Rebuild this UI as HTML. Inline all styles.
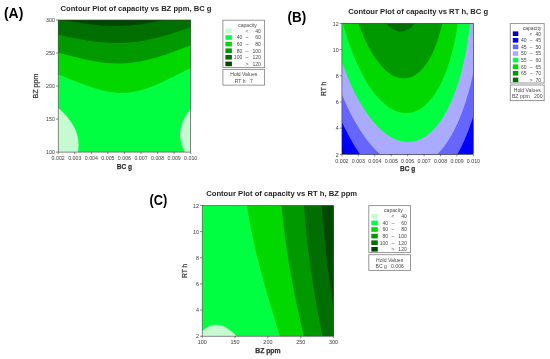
<!DOCTYPE html>
<html><head><meta charset="utf-8"><title>Contour plots</title>
<style>
html,body{margin:0;padding:0;background:#fff;}
svg{display:block;}
text{font-family:"Liberation Sans",sans-serif;fill:#2a2a2a;}
.tk{font-size:6.2px;fill:#3c3c3c;}
.al{font-size:6.4px;fill:#3a3a3a;stroke:#3a3a3a;stroke-width:0.22px;}
.xl{font-size:6.7px;font-weight:bold;stroke:#333;stroke-width:0.25px;fill:#333;}
.tt{font-size:8.1px;font-weight:bold;fill:#262626;}
.pl{font-size:13.9px;font-weight:bold;fill:#000;}
.lg{font-size:5.1px;fill:#4a4a4a;}
</style></head><body>
<svg width="550" height="359" viewBox="0 0 550 359">
<rect width="550" height="359" fill="#fff"/>
<clipPath id="ca"><rect x="58.20" y="20.00" width="132.50" height="132.10"/></clipPath>
<g clip-path="url(#ca)">
<rect x="58.20" y="20.00" width="132.50" height="132.10" fill="#c6fbd2"/>
<path d="M58.2 20.0L60.2 20.0L62.2 20.0L64.2 20.0L66.2 20.0L68.2 20.0L70.2 20.0L72.3 20.0L74.3 20.0L76.3 20.0L78.3 20.0L80.3 20.0L82.3 20.0L84.3 20.0L86.3 20.0L88.3 20.0L90.3 20.0L92.3 20.0L94.3 20.0L96.3 20.0L98.4 20.0L100.4 20.0L102.4 20.0L104.4 20.0L106.4 20.0L108.4 20.0L110.4 20.0L112.4 20.0L114.4 20.0L116.4 20.0L118.4 20.0L120.4 20.0L122.4 20.0L124.5 20.0L126.5 20.0L128.5 20.0L130.5 20.0L132.5 20.0L134.5 20.0L136.5 20.0L138.5 20.0L140.5 20.0L142.5 20.0L144.5 20.0L146.5 20.0L148.5 20.0L150.5 20.0L152.6 20.0L154.6 20.0L156.6 20.0L158.6 20.0L160.6 20.0L162.6 20.0L164.6 20.0L166.6 20.0L168.6 20.0L170.6 20.0L172.6 20.0L174.6 20.0L176.6 20.0L178.7 20.0L180.7 20.0L182.7 20.0L184.7 20.0L186.7 20.0L188.7 20.0L190.7 20.0L190.7 22.0L190.7 24.0L190.7 26.0L190.7 28.0L190.7 30.0L190.7 32.0L190.7 34.0L190.7 36.0L190.7 38.0L190.7 40.0L190.7 42.0L190.7 44.0L190.7 46.0L190.7 48.0L190.7 50.0L190.7 52.0L190.7 54.0L190.7 56.0L190.7 58.0L190.7 60.0L190.7 62.0L190.7 64.0L190.7 66.0L190.7 68.0L190.7 70.0L190.7 72.0L190.7 74.0L190.7 76.0L190.7 78.0L190.7 80.0L190.7 82.0L190.7 84.0L190.7 86.0L190.7 88.1L190.7 90.1L190.7 92.1L190.7 94.1L190.7 96.1L190.7 98.1L190.7 100.1L190.7 102.1L190.7 104.1L190.7 106.1L190.7 108.1L190.7 108.9L189.7 110.1L188.7 111.4L188.2 112.1L186.9 114.1L186.7 114.3L185.6 116.1L184.7 117.7L184.5 118.1L183.5 120.1L182.7 121.9L182.6 122.1L181.9 124.1L181.2 126.1L180.7 128.1L180.7 128.6L180.4 130.1L180.2 132.1L180.1 134.1L180.1 136.1L180.3 138.1L180.5 140.1L180.7 140.7L181.0 142.1L181.5 144.1L182.2 146.1L182.7 147.3L183.0 148.1L183.9 150.1L184.7 151.6L184.9 152.1L184.7 152.1L182.7 152.1L180.7 152.1L178.7 152.1L176.6 152.1L174.6 152.1L172.6 152.1L170.6 152.1L168.6 152.1L166.6 152.1L164.6 152.1L162.6 152.1L160.6 152.1L158.6 152.1L156.6 152.1L154.6 152.1L152.6 152.1L150.5 152.1L148.5 152.1L146.5 152.1L144.5 152.1L142.5 152.1L140.5 152.1L138.5 152.1L136.5 152.1L134.5 152.1L132.5 152.1L130.5 152.1L128.5 152.1L126.5 152.1L124.5 152.1L122.4 152.1L120.4 152.1L118.4 152.1L116.4 152.1L114.4 152.1L112.4 152.1L110.4 152.1L108.4 152.1L106.4 152.1L104.4 152.1L102.4 152.1L100.4 152.1L98.4 152.1L96.3 152.1L94.3 152.1L92.3 152.1L90.3 152.1L88.3 152.1L86.3 152.1L84.3 152.1L82.3 152.1L80.3 152.1L78.3 152.1L78.0 152.1L78.3 150.1L78.3 149.8L78.4 148.1L78.5 146.1L78.5 144.1L78.4 142.1L78.3 140.7L78.2 140.1L77.9 138.1L77.5 136.1L76.9 134.1L76.3 132.1L76.3 132.1L75.5 130.1L74.6 128.1L74.3 127.5L73.5 126.1L72.4 124.1L72.3 123.9L71.1 122.1L70.2 120.9L69.7 120.1L68.2 118.2L68.2 118.1L66.5 116.1L66.2 115.8L64.7 114.1L64.2 113.6L62.7 112.1L62.2 111.6L60.6 110.1L60.2 109.7L58.4 108.1L58.2 107.9L58.2 106.1L58.2 104.1L58.2 102.1L58.2 100.1L58.2 98.1L58.2 96.1L58.2 94.1L58.2 92.1L58.2 90.1L58.2 88.1L58.2 86.0L58.2 84.0L58.2 82.0L58.2 80.0L58.2 78.0L58.2 76.0L58.2 74.0L58.2 72.0L58.2 70.0L58.2 68.0L58.2 66.0L58.2 64.0L58.2 62.0L58.2 60.0L58.2 58.0L58.2 56.0L58.2 54.0L58.2 52.0L58.2 50.0L58.2 48.0L58.2 46.0L58.2 44.0L58.2 42.0L58.2 40.0L58.2 38.0L58.2 36.0L58.2 34.0L58.2 32.0L58.2 30.0L58.2 28.0L58.2 26.0L58.2 24.0L58.2 22.0Z" fill="#00ff40"/>
<path d="M58.2 20.0L60.2 20.0L62.2 20.0L64.2 20.0L66.2 20.0L68.2 20.0L70.2 20.0L72.3 20.0L74.3 20.0L76.3 20.0L78.3 20.0L80.3 20.0L82.3 20.0L84.3 20.0L86.3 20.0L88.3 20.0L90.3 20.0L92.3 20.0L94.3 20.0L96.3 20.0L98.4 20.0L100.4 20.0L102.4 20.0L104.4 20.0L106.4 20.0L108.4 20.0L110.4 20.0L112.4 20.0L114.4 20.0L116.4 20.0L118.4 20.0L120.4 20.0L122.4 20.0L124.5 20.0L126.5 20.0L128.5 20.0L130.5 20.0L132.5 20.0L134.5 20.0L136.5 20.0L138.5 20.0L140.5 20.0L142.5 20.0L144.5 20.0L146.5 20.0L148.5 20.0L150.5 20.0L152.6 20.0L154.6 20.0L156.6 20.0L158.6 20.0L160.6 20.0L162.6 20.0L164.6 20.0L166.6 20.0L168.6 20.0L170.6 20.0L172.6 20.0L174.6 20.0L176.6 20.0L178.7 20.0L180.7 20.0L182.7 20.0L184.7 20.0L186.7 20.0L188.7 20.0L190.7 20.0L190.7 22.0L190.7 24.0L190.7 26.0L190.7 28.0L190.7 30.0L190.7 32.0L190.7 34.0L190.7 36.0L190.7 38.0L190.7 40.0L190.7 42.0L190.7 44.0L190.7 46.0L190.7 48.0L190.7 50.0L190.7 52.0L190.7 54.0L190.7 56.0L190.7 58.0L190.7 60.0L190.7 62.0L190.7 64.0L190.7 66.0L190.7 68.0L190.7 68.0L188.7 69.0L186.7 70.0L186.6 70.0L184.7 71.0L182.7 72.0L182.6 72.0L180.7 73.0L178.7 74.0L178.6 74.0L176.6 75.0L174.6 76.0L174.6 76.0L172.6 77.0L170.6 78.0L170.5 78.0L168.6 79.0L166.6 80.0L166.4 80.0L164.6 80.9L162.6 81.9L162.2 82.0L160.6 82.8L158.6 83.7L157.7 84.0L156.6 84.5L154.6 85.4L152.9 86.0L152.6 86.2L150.5 87.0L148.5 87.7L147.5 88.1L146.5 88.4L144.5 89.1L142.5 89.7L141.2 90.1L140.5 90.2L138.5 90.8L136.5 91.2L134.5 91.6L132.5 92.0L132.0 92.1L130.5 92.3L128.5 92.5L126.5 92.7L124.5 92.8L122.4 92.9L120.4 92.9L118.4 92.8L116.4 92.7L114.4 92.5L112.4 92.3L110.9 92.1L110.4 92.0L108.4 91.7L106.4 91.3L104.4 90.8L102.4 90.4L101.2 90.1L100.4 89.8L98.4 89.3L96.3 88.7L94.3 88.1L94.2 88.1L92.3 87.4L90.3 86.8L88.3 86.1L88.3 86.0L86.3 85.3L84.3 84.6L82.8 84.0L82.3 83.9L80.3 83.1L78.3 82.3L77.6 82.0L76.3 81.5L74.3 80.7L72.5 80.0L72.3 80.0L70.2 79.2L68.2 78.4L67.4 78.0L66.2 77.6L64.2 76.8L62.2 76.0L62.2 76.0L60.2 75.3L58.2 74.5L58.2 74.0L58.2 72.0L58.2 70.0L58.2 68.0L58.2 66.0L58.2 64.0L58.2 62.0L58.2 60.0L58.2 58.0L58.2 56.0L58.2 54.0L58.2 52.0L58.2 50.0L58.2 48.0L58.2 46.0L58.2 44.0L58.2 42.0L58.2 40.0L58.2 38.0L58.2 36.0L58.2 34.0L58.2 32.0L58.2 30.0L58.2 28.0L58.2 26.0L58.2 24.0L58.2 22.0Z" fill="#00d800"/>
<path d="M58.2 20.0L60.2 20.0L62.2 20.0L64.2 20.0L66.2 20.0L68.2 20.0L70.2 20.0L72.3 20.0L74.3 20.0L76.3 20.0L78.3 20.0L80.3 20.0L82.3 20.0L84.3 20.0L86.3 20.0L88.3 20.0L90.3 20.0L92.3 20.0L94.3 20.0L96.3 20.0L98.4 20.0L100.4 20.0L102.4 20.0L104.4 20.0L106.4 20.0L108.4 20.0L110.4 20.0L112.4 20.0L114.4 20.0L116.4 20.0L118.4 20.0L120.4 20.0L122.4 20.0L124.5 20.0L126.5 20.0L128.5 20.0L130.5 20.0L132.5 20.0L134.5 20.0L136.5 20.0L138.5 20.0L140.5 20.0L142.5 20.0L144.5 20.0L146.5 20.0L148.5 20.0L150.5 20.0L152.6 20.0L154.6 20.0L156.6 20.0L158.6 20.0L160.6 20.0L162.6 20.0L164.6 20.0L166.6 20.0L168.6 20.0L170.6 20.0L172.6 20.0L174.6 20.0L176.6 20.0L178.7 20.0L180.7 20.0L182.7 20.0L184.7 20.0L186.7 20.0L188.7 20.0L190.7 20.0L190.7 22.0L190.7 24.0L190.7 26.0L190.7 28.0L190.7 30.0L190.7 32.0L190.7 34.0L190.7 36.0L190.7 38.0L190.7 40.0L190.7 42.0L190.7 44.0L190.7 45.2L188.7 46.0L188.6 46.0L186.7 46.8L184.7 47.5L183.4 48.0L182.7 48.3L180.7 49.1L178.7 49.8L178.1 50.0L176.6 50.6L174.6 51.3L172.7 52.0L172.6 52.1L170.6 52.8L168.6 53.5L167.1 54.0L166.6 54.2L164.6 54.9L162.6 55.6L161.1 56.0L160.6 56.2L158.6 56.8L156.6 57.4L154.6 58.0L154.5 58.0L152.6 58.6L150.5 59.1L148.5 59.6L146.8 60.0L146.5 60.1L144.5 60.6L142.5 61.0L140.5 61.4L138.5 61.7L136.6 62.0L136.5 62.1L134.5 62.3L132.5 62.6L130.5 62.8L128.5 63.0L126.5 63.2L124.4 63.3L122.4 63.4L120.4 63.5L118.4 63.5L116.4 63.5L114.4 63.4L112.4 63.3L110.4 63.2L108.4 63.1L106.4 62.9L104.4 62.7L102.4 62.4L100.4 62.2L99.5 62.0L98.4 61.9L96.3 61.6L94.3 61.2L92.3 60.8L90.3 60.5L88.3 60.0L88.3 60.0L86.3 59.6L84.3 59.2L82.3 58.7L80.3 58.2L79.4 58.0L78.3 57.8L76.3 57.3L74.3 56.8L72.3 56.3L71.4 56.0L70.2 55.7L68.2 55.2L66.2 54.7L64.2 54.2L63.7 54.0L62.2 53.7L60.2 53.1L58.2 52.6L58.2 52.0L58.2 50.0L58.2 48.0L58.2 46.0L58.2 44.0L58.2 42.0L58.2 40.0L58.2 38.0L58.2 36.0L58.2 34.0L58.2 32.0L58.2 30.0L58.2 28.0L58.2 26.0L58.2 24.0L58.2 22.0Z" fill="#009900"/>
<path d="M58.2 20.0L60.2 20.0L62.2 20.0L64.2 20.0L66.2 20.0L68.2 20.0L70.2 20.0L72.3 20.0L74.3 20.0L76.3 20.0L78.3 20.0L80.3 20.0L82.3 20.0L84.3 20.0L86.3 20.0L88.3 20.0L90.3 20.0L92.3 20.0L94.3 20.0L96.3 20.0L98.4 20.0L100.4 20.0L102.4 20.0L104.4 20.0L106.4 20.0L108.4 20.0L110.4 20.0L112.4 20.0L114.4 20.0L116.4 20.0L118.4 20.0L120.4 20.0L122.4 20.0L124.5 20.0L126.5 20.0L128.5 20.0L130.5 20.0L132.5 20.0L134.5 20.0L136.5 20.0L138.5 20.0L140.5 20.0L142.5 20.0L144.5 20.0L146.5 20.0L148.5 20.0L150.5 20.0L152.6 20.0L154.6 20.0L156.6 20.0L158.6 20.0L160.6 20.0L162.6 20.0L164.6 20.0L166.6 20.0L168.6 20.0L170.6 20.0L172.6 20.0L174.6 20.0L176.6 20.0L178.7 20.0L180.7 20.0L182.7 20.0L184.7 20.0L186.7 20.0L188.7 20.0L190.7 20.0L190.7 22.0L190.7 24.0L190.7 26.0L190.7 27.3L188.7 28.0L188.6 28.0L186.7 28.7L184.7 29.3L182.7 30.0L182.6 30.0L180.7 30.7L178.7 31.3L176.6 32.0L176.5 32.0L174.6 32.6L172.6 33.2L170.6 33.9L170.1 34.0L168.6 34.5L166.6 35.1L164.6 35.6L163.2 36.0L162.6 36.2L160.6 36.7L158.6 37.3L156.6 37.8L155.6 38.0L154.6 38.3L152.6 38.7L150.5 39.2L148.5 39.6L146.5 40.0L146.5 40.0L144.5 40.4L142.5 40.7L140.5 41.1L138.5 41.4L136.5 41.7L134.5 41.9L133.5 42.0L132.5 42.1L130.5 42.3L128.5 42.5L126.5 42.7L124.5 42.8L122.4 42.9L120.4 42.9L118.4 43.0L116.4 43.0L114.4 43.0L112.4 42.9L110.4 42.8L108.4 42.8L106.4 42.6L104.4 42.5L102.4 42.3L100.4 42.1L99.3 42.0L98.4 41.9L96.3 41.7L94.3 41.4L92.3 41.2L90.3 40.9L88.3 40.6L86.3 40.2L84.9 40.0L84.3 39.9L82.3 39.6L80.3 39.2L78.3 38.8L76.3 38.4L74.3 38.1L74.1 38.0L72.3 37.7L70.2 37.3L68.2 36.9L66.2 36.4L64.2 36.0L64.1 36.0L62.2 35.6L60.2 35.2L58.2 34.8L58.2 34.0L58.2 32.0L58.2 30.0L58.2 28.0L58.2 26.0L58.2 24.0L58.2 22.0Z" fill="#006e00"/>
<path d="M63.1 20.0L64.2 20.0L66.2 20.0L68.2 20.0L70.2 20.0L72.3 20.0L74.3 20.0L76.3 20.0L78.3 20.0L80.3 20.0L82.3 20.0L84.3 20.0L86.3 20.0L88.3 20.0L90.3 20.0L92.3 20.0L94.3 20.0L96.3 20.0L98.4 20.0L100.4 20.0L102.4 20.0L104.4 20.0L106.4 20.0L108.4 20.0L110.4 20.0L112.4 20.0L114.4 20.0L116.4 20.0L118.4 20.0L120.4 20.0L122.4 20.0L124.5 20.0L126.5 20.0L128.5 20.0L130.5 20.0L132.5 20.0L134.5 20.0L136.5 20.0L138.5 20.0L140.5 20.0L142.5 20.0L144.5 20.0L146.5 20.0L148.5 20.0L150.5 20.0L152.6 20.0L154.6 20.0L156.6 20.0L158.6 20.0L160.6 20.0L162.3 20.0L160.6 20.4L158.6 20.9L156.6 21.3L154.6 21.8L153.5 22.0L152.6 22.2L150.5 22.6L148.5 23.0L146.5 23.3L144.5 23.7L142.5 24.0L142.4 24.0L140.5 24.3L138.5 24.6L136.5 24.8L134.5 25.0L132.5 25.2L130.5 25.4L128.5 25.6L126.5 25.7L124.5 25.8L122.4 25.9L120.4 26.0L118.6 26.0L118.4 26.0L116.4 26.0L114.4 26.0L113.4 26.0L112.4 26.0L110.4 25.9L108.4 25.9L106.4 25.8L104.4 25.7L102.4 25.5L100.4 25.4L98.4 25.2L96.3 25.0L94.3 24.8L92.3 24.6L90.3 24.3L88.3 24.1L87.8 24.0L86.3 23.8L84.3 23.5L82.3 23.2L80.3 22.9L78.3 22.6L76.3 22.3L74.7 22.0L74.3 21.9L72.3 21.6L70.2 21.3L68.2 20.9L66.2 20.6L64.2 20.2Z" fill="#004800"/>
</g>
<rect x="58.20" y="20.00" width="132.50" height="132.10" fill="none" stroke="#3a3a3a" stroke-width="0.6"/>
<line x1="58.20" y1="152.10" x2="58.20" y2="154.10" stroke="#3a3a3a" stroke-width="0.6"/>
<text transform="translate(58.20 160.20) scale(0.85 1)" text-anchor="middle" class="tk">0.002</text>
<line x1="74.76" y1="152.10" x2="74.76" y2="154.10" stroke="#3a3a3a" stroke-width="0.6"/>
<text transform="translate(74.76 160.20) scale(0.85 1)" text-anchor="middle" class="tk">0.003</text>
<line x1="91.33" y1="152.10" x2="91.33" y2="154.10" stroke="#3a3a3a" stroke-width="0.6"/>
<text transform="translate(91.33 160.20) scale(0.85 1)" text-anchor="middle" class="tk">0.004</text>
<line x1="107.89" y1="152.10" x2="107.89" y2="154.10" stroke="#3a3a3a" stroke-width="0.6"/>
<text transform="translate(107.89 160.20) scale(0.85 1)" text-anchor="middle" class="tk">0.005</text>
<line x1="124.45" y1="152.10" x2="124.45" y2="154.10" stroke="#3a3a3a" stroke-width="0.6"/>
<text transform="translate(124.45 160.20) scale(0.85 1)" text-anchor="middle" class="tk">0.006</text>
<line x1="141.01" y1="152.10" x2="141.01" y2="154.10" stroke="#3a3a3a" stroke-width="0.6"/>
<text transform="translate(141.01 160.20) scale(0.85 1)" text-anchor="middle" class="tk">0.007</text>
<line x1="157.57" y1="152.10" x2="157.57" y2="154.10" stroke="#3a3a3a" stroke-width="0.6"/>
<text transform="translate(157.57 160.20) scale(0.85 1)" text-anchor="middle" class="tk">0.008</text>
<line x1="174.14" y1="152.10" x2="174.14" y2="154.10" stroke="#3a3a3a" stroke-width="0.6"/>
<text transform="translate(174.14 160.20) scale(0.85 1)" text-anchor="middle" class="tk">0.009</text>
<line x1="190.70" y1="152.10" x2="190.70" y2="154.10" stroke="#3a3a3a" stroke-width="0.6"/>
<text transform="translate(190.70 160.20) scale(0.85 1)" text-anchor="middle" class="tk">0.010</text>
<line x1="56.00" y1="152.10" x2="58.20" y2="152.10" stroke="#3a3a3a" stroke-width="0.6"/>
<text transform="translate(55.00 154.30) scale(0.86 1)" text-anchor="end" class="tk">100</text>
<line x1="56.00" y1="119.07" x2="58.20" y2="119.07" stroke="#3a3a3a" stroke-width="0.6"/>
<text transform="translate(55.00 121.27) scale(0.86 1)" text-anchor="end" class="tk">150</text>
<line x1="56.00" y1="86.05" x2="58.20" y2="86.05" stroke="#3a3a3a" stroke-width="0.6"/>
<text transform="translate(55.00 88.25) scale(0.86 1)" text-anchor="end" class="tk">200</text>
<line x1="56.00" y1="53.03" x2="58.20" y2="53.03" stroke="#3a3a3a" stroke-width="0.6"/>
<text transform="translate(55.00 55.23) scale(0.86 1)" text-anchor="end" class="tk">250</text>
<line x1="56.00" y1="20.00" x2="58.20" y2="20.00" stroke="#3a3a3a" stroke-width="0.6"/>
<text transform="translate(55.00 22.20) scale(0.86 1)" text-anchor="end" class="tk">300</text>
<text x="116.85" y="168.60" class="al xl" textLength="15.2" lengthAdjust="spacingAndGlyphs">BC g</text>
<text transform="translate(38.00 86.05) rotate(-90)" x="-12.50" y="0" class="al" textLength="25.0" lengthAdjust="spacingAndGlyphs">BZ ppm</text>
<text x="60.6" y="11.1" class="tt" textLength="150.8" lengthAdjust="spacingAndGlyphs">Contour Plot of capacity vs BZ ppm, BC g</text>
<text x="3.9" y="17.9" class="pl" textLength="19.4" lengthAdjust="spacingAndGlyphs">(A)</text>
<rect x="222.90" y="20.20" width="41.70" height="47.40" fill="#fff" stroke="#8c8c8c" stroke-width="0.9"/>
<text x="247.50" y="26.50" text-anchor="middle" class="lg">capacity</text>
<rect x="225.40" y="28.60" width="6.5" height="4.6" fill="#c6fbd2"/>
<text x="246.90" y="32.80" text-anchor="middle" class="lg">&lt;</text>
<text x="260.90" y="32.80" text-anchor="end" class="lg">40</text>
<rect x="225.40" y="35.20" width="6.5" height="4.6" fill="#00ff40"/>
<text x="242.30" y="39.40" text-anchor="end" class="lg">40</text>
<text x="246.90" y="39.40" text-anchor="middle" class="lg">–</text>
<text x="260.90" y="39.40" text-anchor="end" class="lg">60</text>
<rect x="225.40" y="41.80" width="6.5" height="4.6" fill="#00d800"/>
<text x="242.30" y="46.00" text-anchor="end" class="lg">60</text>
<text x="246.90" y="46.00" text-anchor="middle" class="lg">–</text>
<text x="260.90" y="46.00" text-anchor="end" class="lg">80</text>
<rect x="225.40" y="48.40" width="6.5" height="4.6" fill="#009900"/>
<text x="242.30" y="52.60" text-anchor="end" class="lg">80</text>
<text x="246.90" y="52.60" text-anchor="middle" class="lg">–</text>
<text x="260.90" y="52.60" text-anchor="end" class="lg">100</text>
<rect x="225.40" y="55.00" width="6.5" height="4.6" fill="#006e00"/>
<text x="242.30" y="59.20" text-anchor="end" class="lg">100</text>
<text x="246.90" y="59.20" text-anchor="middle" class="lg">–</text>
<text x="260.90" y="59.20" text-anchor="end" class="lg">120</text>
<rect x="225.40" y="61.60" width="6.5" height="4.6" fill="#004800"/>
<text x="246.90" y="65.80" text-anchor="middle" class="lg">&gt;</text>
<text x="260.90" y="65.80" text-anchor="end" class="lg">120</text>
<rect x="222.90" y="69.40" width="41.70" height="15.70" fill="#fff" stroke="#8c8c8c" stroke-width="0.9"/>
<text x="243.75" y="76.30" text-anchor="middle" class="lg">Hold Values</text>
<text x="243.75" y="82.70" text-anchor="middle" class="lg" xml:space="preserve">RT h   7</text>
<clipPath id="cb"><rect x="341.90" y="23.40" width="131.50" height="131.00"/></clipPath>
<g clip-path="url(#cb)">
<rect x="341.90" y="23.40" width="131.50" height="131.00" fill="#0000c0"/>
<path d="M341.9 23.4L343.9 23.4L345.9 23.4L347.9 23.4L349.9 23.4L351.9 23.4L353.9 23.4L355.8 23.4L357.8 23.4L359.8 23.4L361.8 23.4L363.8 23.4L365.8 23.4L367.8 23.4L369.8 23.4L371.8 23.4L373.8 23.4L375.8 23.4L377.8 23.4L379.8 23.4L381.7 23.4L383.7 23.4L385.7 23.4L387.7 23.4L389.7 23.4L391.7 23.4L393.7 23.4L395.7 23.4L397.7 23.4L399.7 23.4L401.7 23.4L403.7 23.4L405.7 23.4L407.6 23.4L409.6 23.4L411.6 23.4L413.6 23.4L415.6 23.4L417.6 23.4L419.6 23.4L421.6 23.4L423.6 23.4L425.6 23.4L427.6 23.4L429.6 23.4L431.6 23.4L433.6 23.4L435.5 23.4L437.5 23.4L439.5 23.4L441.5 23.4L443.5 23.4L445.5 23.4L447.5 23.4L449.5 23.4L451.5 23.4L453.5 23.4L455.5 23.4L457.5 23.4L459.5 23.4L461.4 23.4L463.4 23.4L465.4 23.4L467.4 23.4L469.4 23.4L471.4 23.4L473.4 23.4L473.4 25.4L473.4 27.4L473.4 29.4L473.4 31.3L473.4 33.3L473.4 35.3L473.4 37.3L473.4 39.3L473.4 41.3L473.4 43.2L473.4 45.2L473.4 47.2L473.4 49.2L473.4 51.2L473.4 53.2L473.4 55.2L473.4 57.1L473.4 59.1L473.4 61.1L473.4 63.1L473.4 65.1L473.4 67.1L473.4 69.1L473.4 71.0L473.4 73.0L473.4 75.0L473.4 77.0L473.4 79.0L473.4 81.0L473.4 82.9L473.4 84.9L473.4 86.9L473.4 88.9L473.4 90.9L473.4 92.9L473.4 94.9L473.4 96.8L473.4 98.8L473.4 100.8L473.4 102.8L473.4 104.8L473.4 106.8L473.4 108.7L473.4 110.7L473.4 112.7L473.4 114.7L473.4 116.7L473.4 118.7L473.4 120.7L473.4 122.6L473.4 124.6L473.4 126.6L473.4 128.6L473.4 130.6L473.4 132.6L473.4 134.6L473.4 136.5L473.4 138.5L473.4 140.5L473.4 142.5L473.4 144.5L473.4 146.5L473.4 148.4L473.4 149.2L472.9 150.4L472.1 152.4L471.4 154.0L471.3 154.4L469.4 154.4L467.4 154.4L465.4 154.4L463.4 154.4L461.4 154.4L459.5 154.4L457.5 154.4L455.5 154.4L453.5 154.4L451.5 154.4L449.5 154.4L447.5 154.4L445.5 154.4L443.5 154.4L441.5 154.4L439.5 154.4L437.5 154.4L435.5 154.4L433.6 154.4L431.6 154.4L429.6 154.4L427.6 154.4L425.6 154.4L423.6 154.4L421.6 154.4L419.6 154.4L417.6 154.4L415.6 154.4L413.6 154.4L411.6 154.4L409.6 154.4L407.6 154.4L405.7 154.4L403.7 154.4L401.7 154.4L399.7 154.4L397.7 154.4L395.7 154.4L393.7 154.4L391.7 154.4L389.7 154.4L387.7 154.4L385.7 154.4L383.7 154.4L381.7 154.4L379.8 154.4L377.8 154.4L375.8 154.4L373.8 154.4L371.8 154.4L369.8 154.4L367.8 154.4L365.8 154.4L363.8 154.4L361.8 154.4L359.8 154.4L357.8 154.4L355.8 154.4L353.9 154.4L351.9 154.4L349.9 154.4L347.9 154.4L346.2 154.4L345.9 153.9L345.1 152.4L344.0 150.4L343.9 150.2L343.0 148.4L341.9 146.5L341.9 146.4L341.9 144.5L341.9 142.5L341.9 140.5L341.9 138.5L341.9 136.5L341.9 134.6L341.9 132.6L341.9 130.6L341.9 128.6L341.9 126.6L341.9 124.6L341.9 122.6L341.9 120.7L341.9 118.7L341.9 116.7L341.9 114.7L341.9 112.7L341.9 110.7L341.9 108.7L341.9 106.8L341.9 104.8L341.9 102.8L341.9 100.8L341.9 98.8L341.9 96.8L341.9 94.9L341.9 92.9L341.9 90.9L341.9 88.9L341.9 86.9L341.9 84.9L341.9 82.9L341.9 81.0L341.9 79.0L341.9 77.0L341.9 75.0L341.9 73.0L341.9 71.0L341.9 69.1L341.9 67.1L341.9 65.1L341.9 63.1L341.9 61.1L341.9 59.1L341.9 57.1L341.9 55.2L341.9 53.2L341.9 51.2L341.9 49.2L341.9 47.2L341.9 45.2L341.9 43.2L341.9 41.3L341.9 39.3L341.9 37.3L341.9 35.3L341.9 33.3L341.9 31.3L341.9 29.4L341.9 27.4L341.9 25.4Z" fill="#0000ff"/>
<path d="M341.9 23.4L343.9 23.4L345.9 23.4L347.9 23.4L349.9 23.4L351.9 23.4L353.9 23.4L355.8 23.4L357.8 23.4L359.8 23.4L361.8 23.4L363.8 23.4L365.8 23.4L367.8 23.4L369.8 23.4L371.8 23.4L373.8 23.4L375.8 23.4L377.8 23.4L379.8 23.4L381.7 23.4L383.7 23.4L385.7 23.4L387.7 23.4L389.7 23.4L391.7 23.4L393.7 23.4L395.7 23.4L397.7 23.4L399.7 23.4L401.7 23.4L403.7 23.4L405.7 23.4L407.6 23.4L409.6 23.4L411.6 23.4L413.6 23.4L415.6 23.4L417.6 23.4L419.6 23.4L421.6 23.4L423.6 23.4L425.6 23.4L427.6 23.4L429.6 23.4L431.6 23.4L433.6 23.4L435.5 23.4L437.5 23.4L439.5 23.4L441.5 23.4L443.5 23.4L445.5 23.4L447.5 23.4L449.5 23.4L451.5 23.4L453.5 23.4L455.5 23.4L457.5 23.4L459.5 23.4L461.4 23.4L463.4 23.4L465.4 23.4L467.4 23.4L469.4 23.4L471.4 23.4L473.4 23.4L473.4 25.4L473.4 27.4L473.4 29.4L473.4 31.3L473.4 33.3L473.4 35.3L473.4 37.3L473.4 39.3L473.4 41.3L473.4 43.2L473.4 45.2L473.4 47.2L473.4 49.2L473.4 51.2L473.4 53.2L473.4 55.2L473.4 57.1L473.4 59.1L473.4 61.1L473.4 63.1L473.4 65.1L473.4 67.1L473.4 69.1L473.4 71.0L473.4 73.0L473.4 75.0L473.4 77.0L473.4 79.0L473.4 81.0L473.4 82.9L473.4 84.9L473.4 86.9L473.4 88.9L473.4 90.9L473.4 92.9L473.4 94.9L473.4 96.8L473.4 98.8L473.4 100.8L473.4 102.8L473.4 104.8L473.4 106.8L473.4 108.7L473.4 110.7L473.4 112.7L473.4 114.7L473.4 116.0L473.2 116.7L472.5 118.7L471.9 120.7L471.4 122.1L471.2 122.6L470.5 124.6L469.8 126.6L469.4 127.8L469.1 128.6L468.4 130.6L467.6 132.6L467.4 133.0L466.8 134.6L466.0 136.5L465.4 137.8L465.1 138.5L464.3 140.5L463.4 142.3L463.4 142.5L462.4 144.5L461.5 146.5L461.4 146.6L460.5 148.4L459.5 150.4L459.5 150.5L458.4 152.4L457.5 154.1L457.3 154.4L455.5 154.4L453.5 154.4L451.5 154.4L449.5 154.4L447.5 154.4L445.5 154.4L443.5 154.4L441.5 154.4L439.5 154.4L437.5 154.4L435.5 154.4L433.6 154.4L431.6 154.4L429.6 154.4L427.6 154.4L425.6 154.4L423.6 154.4L421.6 154.4L419.6 154.4L417.6 154.4L415.6 154.4L413.6 154.4L411.6 154.4L409.6 154.4L407.6 154.4L405.7 154.4L403.7 154.4L401.7 154.4L399.7 154.4L397.7 154.4L395.7 154.4L393.7 154.4L391.7 154.4L389.7 154.4L387.7 154.4L385.7 154.4L383.7 154.4L381.7 154.4L379.8 154.4L377.8 154.4L375.8 154.4L373.8 154.4L371.8 154.4L369.8 154.4L367.8 154.4L365.8 154.4L363.8 154.4L361.8 154.4L360.1 154.4L359.8 154.0L358.8 152.4L357.8 151.0L357.4 150.4L356.2 148.4L355.8 148.0L354.9 146.5L353.9 144.7L353.7 144.5L352.5 142.5L351.9 141.3L351.4 140.5L350.3 138.5L349.9 137.8L349.2 136.5L348.1 134.6L347.9 134.2L347.1 132.6L346.0 130.6L345.9 130.3L345.0 128.6L344.0 126.6L343.9 126.3L343.1 124.6L342.1 122.6L341.9 122.1L341.9 120.7L341.9 118.7L341.9 116.7L341.9 114.7L341.9 112.7L341.9 110.7L341.9 108.7L341.9 106.8L341.9 104.8L341.9 102.8L341.9 100.8L341.9 98.8L341.9 96.8L341.9 94.9L341.9 92.9L341.9 90.9L341.9 88.9L341.9 86.9L341.9 84.9L341.9 82.9L341.9 81.0L341.9 79.0L341.9 77.0L341.9 75.0L341.9 73.0L341.9 71.0L341.9 69.1L341.9 67.1L341.9 65.1L341.9 63.1L341.9 61.1L341.9 59.1L341.9 57.1L341.9 55.2L341.9 53.2L341.9 51.2L341.9 49.2L341.9 47.2L341.9 45.2L341.9 43.2L341.9 41.3L341.9 39.3L341.9 37.3L341.9 35.3L341.9 33.3L341.9 31.3L341.9 29.4L341.9 27.4L341.9 25.4Z" fill="#6666ff"/>
<path d="M341.9 23.4L343.9 23.4L345.9 23.4L347.9 23.4L349.9 23.4L351.9 23.4L353.9 23.4L355.8 23.4L357.8 23.4L359.8 23.4L361.8 23.4L363.8 23.4L365.8 23.4L367.8 23.4L369.8 23.4L371.8 23.4L373.8 23.4L375.8 23.4L377.8 23.4L379.8 23.4L381.7 23.4L383.7 23.4L385.7 23.4L387.7 23.4L389.7 23.4L391.7 23.4L393.7 23.4L395.7 23.4L397.7 23.4L399.7 23.4L401.7 23.4L403.7 23.4L405.7 23.4L407.6 23.4L409.6 23.4L411.6 23.4L413.6 23.4L415.6 23.4L417.6 23.4L419.6 23.4L421.6 23.4L423.6 23.4L425.6 23.4L427.6 23.4L429.6 23.4L431.6 23.4L433.6 23.4L435.5 23.4L437.5 23.4L439.5 23.4L441.5 23.4L443.5 23.4L445.5 23.4L447.5 23.4L449.5 23.4L451.5 23.4L453.5 23.4L455.5 23.4L457.5 23.4L459.5 23.4L461.4 23.4L463.4 23.4L465.4 23.4L467.4 23.4L469.4 23.4L471.4 23.4L473.4 23.4L473.4 25.4L473.4 27.4L473.4 29.4L473.4 31.3L473.4 33.3L473.4 35.3L473.4 37.3L473.4 39.3L473.4 41.3L473.4 43.2L473.4 45.2L473.4 47.2L473.4 49.2L473.4 51.2L473.4 53.2L473.4 55.2L473.4 57.1L473.4 59.1L473.4 61.1L473.4 63.1L473.4 65.1L473.4 67.1L473.4 69.1L473.4 71.0L473.4 72.2L473.2 73.0L472.8 75.0L472.4 77.0L471.9 79.0L471.5 81.0L471.4 81.2L471.0 82.9L470.5 84.9L470.0 86.9L469.5 88.9L469.4 89.1L468.9 90.9L468.4 92.9L467.8 94.9L467.4 96.3L467.2 96.8L466.6 98.8L466.0 100.8L465.4 102.7L465.4 102.8L464.7 104.8L464.1 106.8L463.4 108.6L463.4 108.7L462.6 110.7L461.9 112.7L461.4 113.9L461.1 114.7L460.3 116.7L459.5 118.7L459.5 118.9L458.7 120.7L457.8 122.6L457.5 123.5L456.9 124.6L456.0 126.6L455.5 127.7L455.0 128.6L454.0 130.6L453.5 131.6L452.9 132.6L451.9 134.6L451.5 135.2L450.7 136.5L449.5 138.5L449.5 138.6L448.3 140.5L447.5 141.7L446.9 142.5L445.6 144.5L445.5 144.6L444.1 146.5L443.5 147.2L442.5 148.4L441.5 149.7L440.9 150.4L439.5 152.0L439.1 152.4L437.5 154.1L437.2 154.4L435.5 154.4L433.6 154.4L431.6 154.4L429.6 154.4L427.6 154.4L425.6 154.4L423.6 154.4L421.6 154.4L419.6 154.4L417.6 154.4L415.6 154.4L413.6 154.4L411.6 154.4L409.6 154.4L407.6 154.4L405.7 154.4L403.7 154.4L401.7 154.4L399.7 154.4L397.7 154.4L395.7 154.4L393.7 154.4L391.7 154.4L389.7 154.4L387.7 154.4L385.7 154.4L383.7 154.4L381.7 154.4L380.2 154.4L379.8 154.0L378.1 152.4L377.8 152.1L376.0 150.4L375.8 150.2L374.1 148.4L373.8 148.1L372.3 146.5L371.8 145.9L370.6 144.5L369.8 143.5L369.0 142.5L367.8 141.1L367.4 140.5L365.9 138.5L365.8 138.4L364.4 136.5L363.8 135.7L363.0 134.6L361.8 132.8L361.7 132.6L360.4 130.6L359.8 129.7L359.1 128.6L357.9 126.6L357.8 126.5L356.7 124.6L355.8 123.2L355.5 122.6L354.4 120.7L353.9 119.6L353.3 118.7L352.3 116.7L351.9 116.0L351.2 114.7L350.2 112.7L349.9 112.1L349.2 110.7L348.2 108.7L347.9 108.0L347.3 106.8L346.4 104.8L345.9 103.8L345.4 102.8L344.6 100.8L343.9 99.3L343.7 98.8L342.8 96.8L342.0 94.9L341.9 94.6L341.9 92.9L341.9 90.9L341.9 88.9L341.9 86.9L341.9 84.9L341.9 82.9L341.9 81.0L341.9 79.0L341.9 77.0L341.9 75.0L341.9 73.0L341.9 71.0L341.9 69.1L341.9 67.1L341.9 65.1L341.9 63.1L341.9 61.1L341.9 59.1L341.9 57.1L341.9 55.2L341.9 53.2L341.9 51.2L341.9 49.2L341.9 47.2L341.9 45.2L341.9 43.2L341.9 41.3L341.9 39.3L341.9 37.3L341.9 35.3L341.9 33.3L341.9 31.3L341.9 29.4L341.9 27.4L341.9 25.4Z" fill="#aaaaff"/>
<path d="M341.9 23.4L343.9 23.4L345.9 23.4L347.9 23.4L349.9 23.4L351.9 23.4L353.9 23.4L355.8 23.4L357.8 23.4L359.8 23.4L361.8 23.4L363.8 23.4L365.8 23.4L367.8 23.4L369.8 23.4L371.8 23.4L373.8 23.4L375.8 23.4L377.8 23.4L379.8 23.4L381.7 23.4L383.7 23.4L385.7 23.4L387.7 23.4L389.7 23.4L391.7 23.4L393.7 23.4L395.7 23.4L397.7 23.4L399.7 23.4L401.7 23.4L403.7 23.4L405.7 23.4L407.6 23.4L409.6 23.4L411.6 23.4L413.6 23.4L415.6 23.4L417.6 23.4L419.6 23.4L421.6 23.4L423.6 23.4L425.6 23.4L427.6 23.4L429.6 23.4L431.6 23.4L433.6 23.4L435.5 23.4L437.5 23.4L439.5 23.4L441.5 23.4L443.5 23.4L445.5 23.4L447.5 23.4L449.5 23.4L451.5 23.4L453.5 23.4L455.5 23.4L457.5 23.4L459.5 23.4L461.4 23.4L463.4 23.4L465.4 23.4L467.4 23.4L469.4 23.4L470.0 23.4L469.8 25.4L469.6 27.4L469.4 28.8L469.3 29.4L469.1 31.3L468.8 33.3L468.5 35.3L468.3 37.3L468.0 39.3L467.7 41.3L467.4 42.8L467.4 43.2L467.0 45.2L466.7 47.2L466.3 49.2L466.0 51.2L465.6 53.2L465.4 54.0L465.2 55.2L464.8 57.1L464.4 59.1L463.9 61.1L463.5 63.1L463.4 63.4L463.0 65.1L462.6 67.1L462.1 69.1L461.6 71.0L461.4 71.5L461.0 73.0L460.5 75.0L459.9 77.0L459.5 78.7L459.4 79.0L458.8 81.0L458.2 82.9L457.5 84.9L457.5 85.1L456.9 86.9L456.2 88.9L455.5 90.9L455.5 90.9L454.7 92.9L454.0 94.9L453.5 96.2L453.2 96.8L452.4 98.8L451.5 100.8L451.5 100.9L450.7 102.8L449.7 104.8L449.5 105.3L448.8 106.8L447.8 108.7L447.5 109.3L446.8 110.7L445.7 112.7L445.5 113.0L444.5 114.7L443.5 116.4L443.3 116.7L442.1 118.7L441.5 119.5L440.7 120.7L439.5 122.4L439.3 122.6L437.8 124.6L437.5 125.0L436.2 126.6L435.5 127.4L434.4 128.6L433.6 129.5L432.5 130.6L431.6 131.5L430.4 132.6L429.6 133.3L428.0 134.6L427.6 134.9L425.6 136.3L425.2 136.5L423.6 137.5L421.8 138.5L421.6 138.6L419.6 139.6L417.6 140.3L417.0 140.5L415.6 140.9L413.6 141.4L411.6 141.8L409.6 141.9L407.6 142.0L405.7 141.9L403.7 141.7L401.7 141.3L399.7 140.8L398.6 140.5L397.7 140.2L395.7 139.5L393.7 138.6L393.6 138.5L391.7 137.6L389.9 136.5L389.7 136.4L387.7 135.1L386.9 134.6L385.7 133.7L384.3 132.6L383.7 132.2L381.9 130.6L381.7 130.5L379.8 128.7L379.7 128.6L377.8 126.7L377.7 126.6L375.8 124.6L375.8 124.6L374.0 122.6L373.8 122.3L372.4 120.7L371.8 119.9L370.8 118.7L369.8 117.4L369.3 116.7L367.8 114.7L367.8 114.7L366.4 112.7L365.8 111.8L365.1 110.7L363.8 108.8L363.8 108.7L362.6 106.8L361.8 105.6L361.3 104.8L360.2 102.8L359.8 102.2L359.0 100.8L357.9 98.8L357.8 98.6L356.9 96.8L355.8 94.9L355.8 94.9L354.8 92.9L353.9 90.9L353.8 90.9L352.9 88.9L351.9 86.9L351.9 86.7L351.0 84.9L350.1 82.9L349.9 82.3L349.3 81.0L348.4 79.0L347.9 77.7L347.6 77.0L346.8 75.0L346.0 73.0L345.9 72.8L345.2 71.0L344.4 69.1L343.9 67.6L343.7 67.1L343.0 65.1L342.3 63.1L341.9 62.1L341.9 61.1L341.9 59.1L341.9 57.1L341.9 55.2L341.9 53.2L341.9 51.2L341.9 49.2L341.9 47.2L341.9 45.2L341.9 43.2L341.9 41.3L341.9 39.3L341.9 37.3L341.9 35.3L341.9 33.3L341.9 31.3L341.9 29.4L341.9 27.4L341.9 25.4Z" fill="#00ff40"/>
<path d="M342.9 23.4L343.9 23.4L345.9 23.4L347.9 23.4L349.9 23.4L351.9 23.4L353.9 23.4L355.8 23.4L357.8 23.4L359.8 23.4L361.8 23.4L363.8 23.4L365.8 23.4L367.8 23.4L369.8 23.4L371.8 23.4L373.8 23.4L375.8 23.4L377.8 23.4L379.8 23.4L381.7 23.4L383.7 23.4L385.7 23.4L387.7 23.4L389.7 23.4L391.7 23.4L393.7 23.4L395.7 23.4L397.7 23.4L399.7 23.4L401.7 23.4L403.7 23.4L405.7 23.4L407.6 23.4L409.6 23.4L411.6 23.4L413.6 23.4L415.6 23.4L417.6 23.4L419.6 23.4L421.6 23.4L423.6 23.4L425.6 23.4L427.6 23.4L429.6 23.4L431.6 23.4L433.6 23.4L435.5 23.4L437.5 23.4L439.5 23.4L441.5 23.4L443.5 23.4L445.5 23.4L447.5 23.4L449.5 23.4L451.5 23.4L453.5 23.4L455.5 23.4L457.5 23.4L457.8 23.4L457.5 25.4L457.5 26.0L457.2 27.4L456.9 29.4L456.6 31.3L456.2 33.3L455.9 35.3L455.5 37.3L455.5 37.4L455.1 39.3L454.7 41.3L454.3 43.2L453.8 45.2L453.5 46.7L453.4 47.2L452.9 49.2L452.4 51.2L451.9 53.2L451.5 54.6L451.3 55.2L450.8 57.1L450.2 59.1L449.6 61.1L449.5 61.5L449.0 63.1L448.3 65.1L447.7 67.1L447.5 67.5L447.0 69.1L446.2 71.0L445.5 72.9L445.5 73.0L444.7 75.0L443.8 77.0L443.5 77.8L443.0 79.0L442.1 81.0L441.5 82.1L441.1 82.9L440.1 84.9L439.5 86.1L439.1 86.9L438.0 88.9L437.5 89.6L436.8 90.9L435.5 92.9L435.5 92.9L434.2 94.9L433.6 95.8L432.8 96.8L431.6 98.4L431.2 98.8L429.6 100.8L429.6 100.8L427.7 102.8L427.6 102.9L425.6 104.8L425.6 104.8L423.6 106.5L423.3 106.8L421.6 108.0L420.4 108.7L419.6 109.3L417.6 110.3L416.7 110.7L415.6 111.2L413.6 111.9L411.6 112.5L410.4 112.7L409.6 112.9L407.6 113.1L405.7 113.1L403.7 113.0L401.7 112.7L401.6 112.7L399.7 112.3L397.7 111.7L395.7 111.0L395.1 110.7L393.7 110.1L391.7 109.1L391.2 108.7L389.7 107.9L388.1 106.8L387.7 106.5L385.7 105.0L385.5 104.8L383.7 103.3L383.1 102.8L381.7 101.5L381.0 100.8L379.8 99.5L379.1 98.8L377.8 97.4L377.3 96.8L375.8 95.1L375.6 94.9L374.0 92.9L373.8 92.6L372.5 90.9L371.8 89.9L371.1 88.9L369.8 87.0L369.7 86.9L368.4 84.9L367.8 83.9L367.2 82.9L366.0 81.0L365.8 80.7L364.8 79.0L363.8 77.2L363.7 77.0L362.6 75.0L361.8 73.5L361.6 73.0L360.6 71.0L359.8 69.6L359.6 69.1L358.6 67.1L357.8 65.4L357.7 65.1L356.8 63.1L355.9 61.1L355.8 61.0L355.1 59.1L354.2 57.1L353.9 56.2L353.4 55.2L352.6 53.2L351.9 51.2L351.9 51.2L351.1 49.2L350.4 47.2L349.9 45.8L349.7 45.2L349.0 43.2L348.3 41.3L347.9 40.0L347.6 39.3L347.0 37.3L346.4 35.3L345.9 33.8L345.7 33.3L345.1 31.3L344.6 29.4L344.0 27.4L343.9 27.1L343.4 25.4Z" fill="#00d800"/>
<path d="M358.5 23.4L359.8 23.4L361.8 23.4L363.8 23.4L365.8 23.4L367.8 23.4L369.8 23.4L371.8 23.4L373.8 23.4L375.8 23.4L377.8 23.4L379.8 23.4L381.7 23.4L383.7 23.4L385.7 23.4L387.7 23.4L389.7 23.4L391.7 23.4L393.7 23.4L395.7 23.4L397.7 23.4L399.7 23.4L401.7 23.4L403.7 23.4L405.7 23.4L407.6 23.4L409.6 23.4L411.6 23.4L413.6 23.4L415.6 23.4L417.6 23.4L419.6 23.4L421.6 23.4L423.6 23.4L425.6 23.4L427.6 23.4L429.6 23.4L431.6 23.4L433.6 23.4L435.5 23.4L437.5 23.4L439.5 23.4L441.5 23.4L442.2 23.4L441.8 25.4L441.5 26.5L441.3 27.4L440.8 29.4L440.3 31.3L439.7 33.3L439.5 34.1L439.2 35.3L438.6 37.3L437.9 39.3L437.5 40.5L437.3 41.3L436.6 43.2L435.8 45.2L435.5 46.0L435.0 47.2L434.2 49.2L433.6 50.8L433.4 51.2L432.4 53.2L431.6 55.0L431.5 55.2L430.4 57.1L429.6 58.7L429.3 59.1L428.1 61.1L427.6 62.0L426.8 63.1L425.6 64.9L425.5 65.1L423.9 67.1L423.6 67.5L422.2 69.1L421.6 69.7L420.3 71.0L419.6 71.7L418.0 73.0L417.6 73.3L415.6 74.7L415.2 75.0L413.6 75.9L411.6 76.8L411.2 77.0L409.6 77.6L407.6 78.0L405.7 78.3L403.7 78.4L401.7 78.3L399.7 78.0L397.7 77.5L396.3 77.0L395.7 76.8L393.7 75.9L392.1 75.0L391.7 74.8L389.7 73.5L389.1 73.0L387.7 72.0L386.5 71.0L385.7 70.4L384.3 69.1L383.7 68.5L382.4 67.1L381.7 66.4L380.6 65.1L379.8 64.1L378.9 63.1L377.8 61.6L377.4 61.1L375.9 59.1L375.8 58.9L374.6 57.1L373.8 55.9L373.3 55.2L372.1 53.2L371.8 52.7L370.9 51.2L369.8 49.3L369.8 49.2L368.7 47.2L367.8 45.5L367.7 45.2L366.7 43.2L365.8 41.5L365.7 41.3L364.8 39.3L363.9 37.3L363.8 37.1L363.1 35.3L362.2 33.3L361.8 32.3L361.4 31.3L360.7 29.4L359.9 27.4L359.8 27.2L359.2 25.4Z" fill="#009900"/>
<path d="M386.0 23.4L387.7 23.4L389.7 23.4L391.7 23.4L393.7 23.4L395.7 23.4L397.7 23.4L399.7 23.4L401.7 23.4L403.7 23.4L405.7 23.4L407.6 23.4L409.6 23.4L411.6 23.4L413.6 23.4L414.6 23.4L413.6 24.7L413.0 25.4L411.6 26.8L410.9 27.4L409.6 28.4L408.2 29.4L407.6 29.7L405.7 30.6L403.7 31.2L402.9 31.3L401.7 31.5L399.7 31.5L398.8 31.3L397.7 31.2L395.7 30.5L393.7 29.6L393.2 29.4L391.7 28.4L390.3 27.4L389.7 26.9L388.0 25.4L387.7 25.2Z" fill="#006e00"/>
</g>
<rect x="341.90" y="23.40" width="131.50" height="131.00" fill="none" stroke="#3a3a3a" stroke-width="0.6"/>
<line x1="341.90" y1="154.40" x2="341.90" y2="156.40" stroke="#3a3a3a" stroke-width="0.6"/>
<text transform="translate(341.90 162.50) scale(0.85 1)" text-anchor="middle" class="tk">0.002</text>
<line x1="358.34" y1="154.40" x2="358.34" y2="156.40" stroke="#3a3a3a" stroke-width="0.6"/>
<text transform="translate(358.34 162.50) scale(0.85 1)" text-anchor="middle" class="tk">0.003</text>
<line x1="374.77" y1="154.40" x2="374.77" y2="156.40" stroke="#3a3a3a" stroke-width="0.6"/>
<text transform="translate(374.77 162.50) scale(0.85 1)" text-anchor="middle" class="tk">0.004</text>
<line x1="391.21" y1="154.40" x2="391.21" y2="156.40" stroke="#3a3a3a" stroke-width="0.6"/>
<text transform="translate(391.21 162.50) scale(0.85 1)" text-anchor="middle" class="tk">0.005</text>
<line x1="407.65" y1="154.40" x2="407.65" y2="156.40" stroke="#3a3a3a" stroke-width="0.6"/>
<text transform="translate(407.65 162.50) scale(0.85 1)" text-anchor="middle" class="tk">0.006</text>
<line x1="424.09" y1="154.40" x2="424.09" y2="156.40" stroke="#3a3a3a" stroke-width="0.6"/>
<text transform="translate(424.09 162.50) scale(0.85 1)" text-anchor="middle" class="tk">0.007</text>
<line x1="440.52" y1="154.40" x2="440.52" y2="156.40" stroke="#3a3a3a" stroke-width="0.6"/>
<text transform="translate(440.52 162.50) scale(0.85 1)" text-anchor="middle" class="tk">0.008</text>
<line x1="456.96" y1="154.40" x2="456.96" y2="156.40" stroke="#3a3a3a" stroke-width="0.6"/>
<text transform="translate(456.96 162.50) scale(0.85 1)" text-anchor="middle" class="tk">0.009</text>
<line x1="473.40" y1="154.40" x2="473.40" y2="156.40" stroke="#3a3a3a" stroke-width="0.6"/>
<text transform="translate(473.40 162.50) scale(0.85 1)" text-anchor="middle" class="tk">0.010</text>
<line x1="339.70" y1="154.40" x2="341.90" y2="154.40" stroke="#3a3a3a" stroke-width="0.6"/>
<text transform="translate(338.70 156.60) scale(0.86 1)" text-anchor="end" class="tk">2</text>
<line x1="339.70" y1="128.20" x2="341.90" y2="128.20" stroke="#3a3a3a" stroke-width="0.6"/>
<text transform="translate(338.70 130.40) scale(0.86 1)" text-anchor="end" class="tk">4</text>
<line x1="339.70" y1="102.00" x2="341.90" y2="102.00" stroke="#3a3a3a" stroke-width="0.6"/>
<text transform="translate(338.70 104.20) scale(0.86 1)" text-anchor="end" class="tk">6</text>
<line x1="339.70" y1="75.80" x2="341.90" y2="75.80" stroke="#3a3a3a" stroke-width="0.6"/>
<text transform="translate(338.70 78.00) scale(0.86 1)" text-anchor="end" class="tk">8</text>
<line x1="339.70" y1="49.60" x2="341.90" y2="49.60" stroke="#3a3a3a" stroke-width="0.6"/>
<text transform="translate(338.70 51.80) scale(0.86 1)" text-anchor="end" class="tk">10</text>
<line x1="339.70" y1="23.40" x2="341.90" y2="23.40" stroke="#3a3a3a" stroke-width="0.6"/>
<text transform="translate(338.70 25.60) scale(0.86 1)" text-anchor="end" class="tk">12</text>
<text x="400.05" y="170.90" class="al xl" textLength="15.2" lengthAdjust="spacingAndGlyphs">BC g</text>
<text transform="translate(325.80 88.90) rotate(-90)" x="-7.15" y="0" class="al" textLength="14.3" lengthAdjust="spacingAndGlyphs">RT h</text>
<text x="348.3" y="14.4" class="tt" textLength="139.8" lengthAdjust="spacingAndGlyphs">Contour Plot of capacity vs RT h, BC g</text>
<text x="287.6" y="22.3" class="pl" textLength="18.6" lengthAdjust="spacingAndGlyphs">(B)</text>
<rect x="510.30" y="23.60" width="33.90" height="59.40" fill="#fff" stroke="#8c8c8c" stroke-width="0.9"/>
<text x="532.00" y="29.90" text-anchor="middle" class="lg">capacity</text>
<rect x="512.80" y="31.40" width="5.5" height="4.6" fill="#0000c0"/>
<text x="531.10" y="35.60" text-anchor="middle" class="lg">&lt;</text>
<text x="541.20" y="35.60" text-anchor="end" class="lg">40</text>
<rect x="512.80" y="38.00" width="5.5" height="4.6" fill="#0000ff"/>
<text x="526.60" y="42.20" text-anchor="end" class="lg">40</text>
<text x="531.10" y="42.20" text-anchor="middle" class="lg">–</text>
<text x="541.20" y="42.20" text-anchor="end" class="lg">45</text>
<rect x="512.80" y="44.60" width="5.5" height="4.6" fill="#6666ff"/>
<text x="526.60" y="48.80" text-anchor="end" class="lg">45</text>
<text x="531.10" y="48.80" text-anchor="middle" class="lg">–</text>
<text x="541.20" y="48.80" text-anchor="end" class="lg">50</text>
<rect x="512.80" y="51.20" width="5.5" height="4.6" fill="#aaaaff"/>
<text x="526.60" y="55.40" text-anchor="end" class="lg">50</text>
<text x="531.10" y="55.40" text-anchor="middle" class="lg">–</text>
<text x="541.20" y="55.40" text-anchor="end" class="lg">55</text>
<rect x="512.80" y="57.80" width="5.5" height="4.6" fill="#00ff40"/>
<text x="526.60" y="62.00" text-anchor="end" class="lg">55</text>
<text x="531.10" y="62.00" text-anchor="middle" class="lg">–</text>
<text x="541.20" y="62.00" text-anchor="end" class="lg">60</text>
<rect x="512.80" y="64.40" width="5.5" height="4.6" fill="#00d800"/>
<text x="526.60" y="68.60" text-anchor="end" class="lg">60</text>
<text x="531.10" y="68.60" text-anchor="middle" class="lg">–</text>
<text x="541.20" y="68.60" text-anchor="end" class="lg">65</text>
<rect x="512.80" y="71.00" width="5.5" height="4.6" fill="#009900"/>
<text x="526.60" y="75.20" text-anchor="end" class="lg">65</text>
<text x="531.10" y="75.20" text-anchor="middle" class="lg">–</text>
<text x="541.20" y="75.20" text-anchor="end" class="lg">70</text>
<rect x="512.80" y="77.60" width="5.5" height="4.6" fill="#006e00"/>
<text x="531.10" y="81.80" text-anchor="middle" class="lg">&gt;</text>
<text x="541.20" y="81.80" text-anchor="end" class="lg">70</text>
<rect x="510.30" y="85.00" width="33.90" height="15.60" fill="#fff" stroke="#8c8c8c" stroke-width="0.9"/>
<text x="527.25" y="91.90" text-anchor="middle" class="lg">Hold Values</text>
<text x="527.25" y="98.30" text-anchor="middle" class="lg" xml:space="preserve">BZ ppm   200</text>
<clipPath id="cc"><rect x="202.20" y="205.40" width="131.40" height="130.80"/></clipPath>
<g clip-path="url(#cc)">
<rect x="202.20" y="205.40" width="131.40" height="130.80" fill="#c6fbd2"/>
<path d="M202.2 205.4L204.2 205.4L206.2 205.4L208.2 205.4L210.2 205.4L212.2 205.4L214.1 205.4L216.1 205.4L218.1 205.4L220.1 205.4L222.1 205.4L224.1 205.4L226.1 205.4L228.1 205.4L230.1 205.4L232.1 205.4L234.1 205.4L236.0 205.4L238.0 205.4L240.0 205.4L242.0 205.4L244.0 205.4L246.0 205.4L248.0 205.4L250.0 205.4L252.0 205.4L254.0 205.4L256.0 205.4L257.9 205.4L259.9 205.4L261.9 205.4L263.9 205.4L265.9 205.4L267.9 205.4L269.9 205.4L271.9 205.4L273.9 205.4L275.9 205.4L277.9 205.4L279.8 205.4L281.8 205.4L283.8 205.4L285.8 205.4L287.8 205.4L289.8 205.4L291.8 205.4L293.8 205.4L295.8 205.4L297.8 205.4L299.8 205.4L301.7 205.4L303.7 205.4L305.7 205.4L307.7 205.4L309.7 205.4L311.7 205.4L313.7 205.4L315.7 205.4L317.7 205.4L319.7 205.4L321.7 205.4L323.6 205.4L325.6 205.4L327.6 205.4L329.6 205.4L331.6 205.4L333.6 205.4L333.6 207.4L333.6 209.4L333.6 211.4L333.6 213.4L333.6 215.5L333.6 217.5L333.6 219.5L333.6 221.5L333.6 223.5L333.6 225.5L333.6 227.5L333.6 229.5L333.6 231.6L333.6 233.6L333.6 235.6L333.6 237.6L333.6 239.6L333.6 241.6L333.6 243.6L333.6 245.6L333.6 247.7L333.6 249.7L333.6 251.7L333.6 253.7L333.6 255.7L333.6 257.7L333.6 259.7L333.6 261.7L333.6 263.8L333.6 265.8L333.6 267.8L333.6 269.8L333.6 271.8L333.6 273.8L333.6 275.8L333.6 277.8L333.6 279.9L333.6 281.9L333.6 283.9L333.6 285.9L333.6 287.9L333.6 289.9L333.6 291.9L333.6 293.9L333.6 296.0L333.6 298.0L333.6 300.0L333.6 302.0L333.6 304.0L333.6 306.0L333.6 308.0L333.6 310.0L333.6 312.1L333.6 314.1L333.6 316.1L333.6 318.1L333.6 320.1L333.6 322.1L333.6 324.1L333.6 326.1L333.6 328.2L333.6 330.2L333.6 332.2L333.6 334.2L333.6 336.2L331.6 336.2L329.6 336.2L327.6 336.2L325.6 336.2L323.6 336.2L321.7 336.2L319.7 336.2L317.7 336.2L315.7 336.2L313.7 336.2L311.7 336.2L309.7 336.2L307.7 336.2L305.7 336.2L303.7 336.2L301.7 336.2L299.8 336.2L297.8 336.2L295.8 336.2L293.8 336.2L291.8 336.2L289.8 336.2L287.8 336.2L285.8 336.2L283.8 336.2L281.8 336.2L279.8 336.2L277.9 336.2L275.9 336.2L273.9 336.2L271.9 336.2L269.9 336.2L267.9 336.2L265.9 336.2L263.9 336.2L261.9 336.2L259.9 336.2L257.9 336.2L256.0 336.2L254.0 336.2L252.0 336.2L250.0 336.2L248.0 336.2L246.0 336.2L244.0 336.2L242.0 336.2L240.0 336.2L238.0 336.2L236.6 336.2L236.0 335.6L234.6 334.2L234.1 333.6L232.5 332.2L232.1 331.8L230.1 330.2L230.1 330.2L228.1 328.7L227.1 328.2L226.1 327.5L224.1 326.5L223.1 326.1L222.1 325.7L220.1 325.2L218.1 324.9L216.1 324.8L214.1 324.9L212.2 325.3L210.2 326.0L209.8 326.1L208.2 326.9L206.2 328.0L206.0 328.2L204.2 329.4L203.2 330.2L202.2 331.0L202.2 330.2L202.2 328.2L202.2 326.1L202.2 324.1L202.2 322.1L202.2 320.1L202.2 318.1L202.2 316.1L202.2 314.1L202.2 312.1L202.2 310.0L202.2 308.0L202.2 306.0L202.2 304.0L202.2 302.0L202.2 300.0L202.2 298.0L202.2 296.0L202.2 293.9L202.2 291.9L202.2 289.9L202.2 287.9L202.2 285.9L202.2 283.9L202.2 281.9L202.2 279.9L202.2 277.8L202.2 275.8L202.2 273.8L202.2 271.8L202.2 269.8L202.2 267.8L202.2 265.8L202.2 263.8L202.2 261.7L202.2 259.7L202.2 257.7L202.2 255.7L202.2 253.7L202.2 251.7L202.2 249.7L202.2 247.7L202.2 245.6L202.2 243.6L202.2 241.6L202.2 239.6L202.2 237.6L202.2 235.6L202.2 233.6L202.2 231.6L202.2 229.5L202.2 227.5L202.2 225.5L202.2 223.5L202.2 221.5L202.2 219.5L202.2 217.5L202.2 215.5L202.2 213.4L202.2 211.4L202.2 209.4L202.2 207.4Z" fill="#00ff40"/>
<path d="M246.9 205.4L248.0 205.4L250.0 205.4L252.0 205.4L254.0 205.4L256.0 205.4L257.9 205.4L259.9 205.4L261.9 205.4L263.9 205.4L265.9 205.4L267.9 205.4L269.9 205.4L271.9 205.4L273.9 205.4L275.9 205.4L277.9 205.4L279.8 205.4L281.8 205.4L283.8 205.4L285.8 205.4L287.8 205.4L289.8 205.4L291.8 205.4L293.8 205.4L295.8 205.4L297.8 205.4L299.8 205.4L301.7 205.4L303.7 205.4L305.7 205.4L307.7 205.4L309.7 205.4L311.7 205.4L313.7 205.4L315.7 205.4L317.7 205.4L319.7 205.4L321.7 205.4L323.6 205.4L325.6 205.4L327.6 205.4L329.6 205.4L331.6 205.4L333.6 205.4L333.6 207.4L333.6 209.4L333.6 211.4L333.6 213.4L333.6 215.5L333.6 217.5L333.6 219.5L333.6 221.5L333.6 223.5L333.6 225.5L333.6 227.5L333.6 229.5L333.6 231.6L333.6 233.6L333.6 235.6L333.6 237.6L333.6 239.6L333.6 241.6L333.6 243.6L333.6 245.6L333.6 247.7L333.6 249.7L333.6 251.7L333.6 253.7L333.6 255.7L333.6 257.7L333.6 259.7L333.6 261.7L333.6 263.8L333.6 265.8L333.6 267.8L333.6 269.8L333.6 271.8L333.6 273.8L333.6 275.8L333.6 277.8L333.6 279.9L333.6 281.9L333.6 283.9L333.6 285.9L333.6 287.9L333.6 289.9L333.6 291.9L333.6 293.9L333.6 296.0L333.6 298.0L333.6 300.0L333.6 302.0L333.6 304.0L333.6 306.0L333.6 308.0L333.6 310.0L333.6 312.1L333.6 314.1L333.6 316.1L333.6 318.1L333.6 320.1L333.6 322.1L333.6 324.1L333.6 326.1L333.6 328.2L333.6 330.2L333.6 332.2L333.6 334.2L333.6 336.2L331.6 336.2L329.6 336.2L327.6 336.2L325.6 336.2L323.6 336.2L321.7 336.2L319.7 336.2L317.7 336.2L315.7 336.2L313.7 336.2L311.7 336.2L309.7 336.2L307.7 336.2L305.7 336.2L303.7 336.2L301.7 336.2L299.8 336.2L297.8 336.2L295.8 336.2L293.8 336.2L291.8 336.2L289.8 336.2L287.8 336.2L285.8 336.2L283.8 336.2L281.8 336.2L279.9 336.2L279.8 336.0L279.3 334.2L278.6 332.2L278.0 330.2L277.9 329.6L277.4 328.2L276.8 326.1L276.1 324.1L275.9 323.2L275.5 322.1L274.9 320.1L274.3 318.1L273.9 316.7L273.7 316.1L273.1 314.1L272.5 312.1L271.9 310.1L271.9 310.0L271.3 308.0L270.7 306.0L270.1 304.0L269.9 303.4L269.5 302.0L268.9 300.0L268.3 298.0L267.9 296.6L267.7 296.0L267.1 293.9L266.5 291.9L266.0 289.9L265.9 289.7L265.4 287.9L264.8 285.9L264.3 283.9L263.9 282.6L263.7 281.9L263.2 279.9L262.6 277.8L262.1 275.8L261.9 275.3L261.5 273.8L261.0 271.8L260.4 269.8L259.9 267.8L259.9 267.8L259.4 265.8L258.9 263.8L258.4 261.7L257.9 260.1L257.9 259.7L257.3 257.7L256.8 255.7L256.4 253.7L256.0 252.0L255.9 251.7L255.4 249.7L254.9 247.7L254.5 245.6L254.0 243.6L254.0 243.4L253.6 241.6L253.1 239.6L252.7 237.6L252.2 235.6L252.0 234.2L251.8 233.6L251.4 231.6L251.0 229.5L250.6 227.5L250.2 225.5L250.0 224.2L249.9 223.5L249.5 221.5L249.1 219.5L248.8 217.5L248.4 215.5L248.1 213.4L248.0 212.7L247.8 211.4L247.5 209.4L247.2 207.4Z" fill="#00d800"/>
<path d="M281.5 205.4L281.8 205.4L283.8 205.4L285.8 205.4L287.8 205.4L289.8 205.4L291.8 205.4L293.8 205.4L295.8 205.4L297.8 205.4L299.8 205.4L301.7 205.4L303.7 205.4L305.7 205.4L307.7 205.4L309.7 205.4L311.7 205.4L313.7 205.4L315.7 205.4L317.7 205.4L319.7 205.4L321.7 205.4L323.6 205.4L325.6 205.4L327.6 205.4L329.6 205.4L331.6 205.4L333.6 205.4L333.6 207.4L333.6 209.4L333.6 211.4L333.6 213.4L333.6 215.5L333.6 217.5L333.6 219.5L333.6 221.5L333.6 223.5L333.6 225.5L333.6 227.5L333.6 229.5L333.6 231.6L333.6 233.6L333.6 235.6L333.6 237.6L333.6 239.6L333.6 241.6L333.6 243.6L333.6 245.6L333.6 247.7L333.6 249.7L333.6 251.7L333.6 253.7L333.6 255.7L333.6 257.7L333.6 259.7L333.6 261.7L333.6 263.8L333.6 265.8L333.6 267.8L333.6 269.8L333.6 271.8L333.6 273.8L333.6 275.8L333.6 277.8L333.6 279.9L333.6 281.9L333.6 283.9L333.6 285.9L333.6 287.9L333.6 289.9L333.6 291.9L333.6 293.9L333.6 296.0L333.6 298.0L333.6 300.0L333.6 302.0L333.6 304.0L333.6 306.0L333.6 308.0L333.6 310.0L333.6 312.1L333.6 314.1L333.6 316.1L333.6 318.1L333.6 320.1L333.6 322.1L333.6 324.1L333.6 326.1L333.6 328.2L333.6 330.2L333.6 332.2L333.6 334.2L333.6 336.2L331.6 336.2L329.6 336.2L327.6 336.2L325.6 336.2L323.6 336.2L321.7 336.2L319.7 336.2L317.7 336.2L315.7 336.2L313.7 336.2L311.7 336.2L309.7 336.2L307.7 336.2L305.7 336.2L303.8 336.2L303.7 335.9L303.3 334.2L302.9 332.2L302.4 330.2L301.9 328.2L301.7 327.3L301.5 326.1L301.0 324.1L300.5 322.1L300.1 320.1L299.8 318.5L299.7 318.1L299.2 316.1L298.8 314.1L298.3 312.1L297.9 310.0L297.8 309.4L297.5 308.0L297.0 306.0L296.6 304.0L296.2 302.0L295.8 300.0L295.8 300.0L295.4 298.0L294.9 296.0L294.5 293.9L294.1 291.9L293.8 290.1L293.8 289.9L293.4 287.9L293.0 285.9L292.6 283.9L292.2 281.9L291.8 279.9L291.8 279.6L291.5 277.8L291.1 275.8L290.7 273.8L290.4 271.8L290.0 269.8L289.8 268.4L289.7 267.8L289.3 265.8L289.0 263.8L288.7 261.7L288.3 259.7L288.0 257.7L287.8 256.3L287.7 255.7L287.4 253.7L287.1 251.7L286.8 249.7L286.5 247.7L286.2 245.6L285.9 243.6L285.8 243.0L285.6 241.6L285.4 239.6L285.1 237.6L284.8 235.6L284.6 233.6L284.3 231.6L284.1 229.5L283.8 227.6L283.8 227.5L283.6 225.5L283.3 223.5L283.1 221.5L282.9 219.5L282.7 217.5L282.5 215.5L282.3 213.4L282.1 211.4L281.9 209.4L281.8 208.6L281.7 207.4Z" fill="#009900"/>
<path d="M303.9 205.4L305.7 205.4L307.7 205.4L309.7 205.4L311.7 205.4L313.7 205.4L315.7 205.4L317.7 205.4L319.7 205.4L321.7 205.4L323.6 205.4L325.6 205.4L327.6 205.4L329.6 205.4L331.6 205.4L333.6 205.4L333.6 207.4L333.6 209.4L333.6 211.4L333.6 213.4L333.6 215.5L333.6 217.5L333.6 219.5L333.6 221.5L333.6 223.5L333.6 225.5L333.6 227.5L333.6 229.5L333.6 231.6L333.6 233.6L333.6 235.6L333.6 237.6L333.6 239.6L333.6 241.6L333.6 243.6L333.6 245.6L333.6 247.7L333.6 249.7L333.6 251.7L333.6 253.7L333.6 255.7L333.6 257.7L333.6 259.7L333.6 261.7L333.6 263.8L333.6 265.8L333.6 267.8L333.6 269.8L333.6 271.8L333.6 273.8L333.6 275.8L333.6 277.8L333.6 279.9L333.6 281.9L333.6 283.9L333.6 285.9L333.6 287.9L333.6 289.9L333.6 291.9L333.6 293.9L333.6 296.0L333.6 298.0L333.6 300.0L333.6 302.0L333.6 304.0L333.6 306.0L333.6 308.0L333.6 310.0L333.6 312.1L333.6 314.1L333.6 316.1L333.6 318.1L333.6 320.1L333.6 322.1L333.6 324.1L333.6 326.1L333.6 328.2L333.6 330.2L333.6 332.2L333.6 334.2L333.6 336.2L331.6 336.2L329.6 336.2L327.6 336.2L325.6 336.2L323.6 336.2L322.4 336.2L322.0 334.2L321.7 332.2L321.6 332.2L321.2 330.2L320.8 328.2L320.5 326.1L320.1 324.1L319.7 322.1L319.7 322.0L319.3 320.1L318.9 318.1L318.6 316.1L318.2 314.1L317.8 312.1L317.7 311.2L317.5 310.0L317.1 308.0L316.7 306.0L316.4 304.0L316.0 302.0L315.7 300.0L315.7 300.0L315.3 298.0L315.0 296.0L314.7 293.9L314.3 291.9L314.0 289.9L313.7 288.0L313.7 287.9L313.4 285.9L313.0 283.9L312.7 281.9L312.4 279.9L312.1 277.8L311.8 275.8L311.7 275.1L311.5 273.8L311.2 271.8L310.9 269.8L310.6 267.8L310.4 265.8L310.1 263.8L309.8 261.7L309.7 261.0L309.5 259.7L309.3 257.7L309.0 255.7L308.7 253.7L308.5 251.7L308.2 249.7L308.0 247.7L307.8 245.6L307.7 245.2L307.5 243.6L307.3 241.6L307.1 239.6L306.8 237.6L306.6 235.6L306.4 233.6L306.2 231.6L306.0 229.5L305.8 227.5L305.7 226.8L305.6 225.5L305.4 223.5L305.2 221.5L305.0 219.5L304.9 217.5L304.7 215.5L304.5 213.4L304.4 211.4L304.2 209.4L304.0 207.4Z" fill="#006e00"/>
<path d="M321.8 205.4L323.6 205.4L325.6 205.4L327.6 205.4L329.6 205.4L331.6 205.4L333.6 205.4L333.6 207.4L333.6 209.4L333.6 211.4L333.6 213.4L333.6 215.5L333.6 217.5L333.6 219.5L333.6 221.5L333.6 223.5L333.6 225.5L333.6 227.5L333.6 229.5L333.6 231.6L333.6 233.6L333.6 235.6L333.6 237.6L333.6 239.6L333.6 241.6L333.6 243.6L333.6 245.6L333.6 247.7L333.6 249.7L333.6 251.7L333.6 253.7L333.6 255.7L333.6 257.7L333.6 259.7L333.6 261.7L333.6 263.8L333.6 265.8L333.6 267.8L333.6 269.8L333.6 271.8L333.6 273.8L333.6 275.8L333.6 277.8L333.6 279.9L333.6 281.9L333.6 283.9L333.6 285.9L333.6 287.9L333.6 289.9L333.6 291.9L333.6 293.9L333.6 296.0L333.6 298.0L333.6 300.0L333.6 302.0L333.6 304.0L333.6 306.0L333.6 308.0L333.6 308.7L333.5 308.0L333.2 306.0L332.9 304.0L332.5 302.0L332.2 300.0L331.9 298.0L331.6 296.0L331.6 295.8L331.3 293.9L331.0 291.9L330.8 289.9L330.5 287.9L330.2 285.9L329.9 283.9L329.6 281.9L329.6 281.8L329.4 279.9L329.1 277.8L328.8 275.8L328.5 273.8L328.3 271.8L328.0 269.8L327.8 267.8L327.6 266.5L327.5 265.8L327.3 263.8L327.0 261.7L326.8 259.7L326.6 257.7L326.3 255.7L326.1 253.7L325.9 251.7L325.7 249.7L325.6 249.4L325.4 247.7L325.2 245.6L325.0 243.6L324.8 241.6L324.6 239.6L324.4 237.6L324.2 235.6L324.0 233.6L323.8 231.6L323.7 229.5L323.6 229.3L323.5 227.5L323.3 225.5L323.1 223.5L323.0 221.5L322.8 219.5L322.6 217.5L322.5 215.5L322.3 213.4L322.2 211.4L322.0 209.4L321.9 207.4Z" fill="#004800"/>
</g>
<rect x="202.20" y="205.40" width="131.40" height="130.80" fill="none" stroke="#3a3a3a" stroke-width="0.6"/>
<line x1="202.20" y1="336.20" x2="202.20" y2="338.20" stroke="#3a3a3a" stroke-width="0.6"/>
<text transform="translate(202.20 344.30) scale(0.88 1)" text-anchor="middle" class="tk">100</text>
<line x1="235.05" y1="336.20" x2="235.05" y2="338.20" stroke="#3a3a3a" stroke-width="0.6"/>
<text transform="translate(235.05 344.30) scale(0.88 1)" text-anchor="middle" class="tk">150</text>
<line x1="267.90" y1="336.20" x2="267.90" y2="338.20" stroke="#3a3a3a" stroke-width="0.6"/>
<text transform="translate(267.90 344.30) scale(0.88 1)" text-anchor="middle" class="tk">200</text>
<line x1="300.75" y1="336.20" x2="300.75" y2="338.20" stroke="#3a3a3a" stroke-width="0.6"/>
<text transform="translate(300.75 344.30) scale(0.88 1)" text-anchor="middle" class="tk">250</text>
<line x1="333.60" y1="336.20" x2="333.60" y2="338.20" stroke="#3a3a3a" stroke-width="0.6"/>
<text transform="translate(333.60 344.30) scale(0.88 1)" text-anchor="middle" class="tk">300</text>
<line x1="200.00" y1="336.20" x2="202.20" y2="336.20" stroke="#3a3a3a" stroke-width="0.6"/>
<text transform="translate(199.00 338.40) scale(0.86 1)" text-anchor="end" class="tk">2</text>
<line x1="200.00" y1="310.04" x2="202.20" y2="310.04" stroke="#3a3a3a" stroke-width="0.6"/>
<text transform="translate(199.00 312.24) scale(0.86 1)" text-anchor="end" class="tk">4</text>
<line x1="200.00" y1="283.88" x2="202.20" y2="283.88" stroke="#3a3a3a" stroke-width="0.6"/>
<text transform="translate(199.00 286.08) scale(0.86 1)" text-anchor="end" class="tk">6</text>
<line x1="200.00" y1="257.72" x2="202.20" y2="257.72" stroke="#3a3a3a" stroke-width="0.6"/>
<text transform="translate(199.00 259.92) scale(0.86 1)" text-anchor="end" class="tk">8</text>
<line x1="200.00" y1="231.56" x2="202.20" y2="231.56" stroke="#3a3a3a" stroke-width="0.6"/>
<text transform="translate(199.00 233.76) scale(0.86 1)" text-anchor="end" class="tk">10</text>
<line x1="200.00" y1="205.40" x2="202.20" y2="205.40" stroke="#3a3a3a" stroke-width="0.6"/>
<text transform="translate(199.00 207.60) scale(0.86 1)" text-anchor="end" class="tk">12</text>
<text x="255.25" y="353.20" class="al xl" textLength="25.3" lengthAdjust="spacingAndGlyphs">BZ ppm</text>
<text transform="translate(186.60 270.80) rotate(-90)" x="-7.15" y="0" class="al" textLength="14.3" lengthAdjust="spacingAndGlyphs">RT h</text>
<text x="206.2" y="196.0" class="tt" textLength="151" lengthAdjust="spacingAndGlyphs">Contour Plot of capacity vs RT h, BZ ppm</text>
<text x="149.6" y="205.3" class="pl" textLength="17.8" lengthAdjust="spacingAndGlyphs">(C)</text>
<rect x="368.80" y="205.60" width="41.70" height="47.00" fill="#fff" stroke="#8c8c8c" stroke-width="0.9"/>
<text x="393.40" y="211.90" text-anchor="middle" class="lg">capacity</text>
<rect x="371.30" y="214.00" width="6.5" height="4.6" fill="#c6fbd2"/>
<text x="392.80" y="218.20" text-anchor="middle" class="lg">&lt;</text>
<text x="406.80" y="218.20" text-anchor="end" class="lg">40</text>
<rect x="371.30" y="220.60" width="6.5" height="4.6" fill="#00ff40"/>
<text x="388.20" y="224.80" text-anchor="end" class="lg">40</text>
<text x="392.80" y="224.80" text-anchor="middle" class="lg">–</text>
<text x="406.80" y="224.80" text-anchor="end" class="lg">60</text>
<rect x="371.30" y="227.20" width="6.5" height="4.6" fill="#00d800"/>
<text x="388.20" y="231.40" text-anchor="end" class="lg">60</text>
<text x="392.80" y="231.40" text-anchor="middle" class="lg">–</text>
<text x="406.80" y="231.40" text-anchor="end" class="lg">80</text>
<rect x="371.30" y="233.80" width="6.5" height="4.6" fill="#009900"/>
<text x="388.20" y="238.00" text-anchor="end" class="lg">80</text>
<text x="392.80" y="238.00" text-anchor="middle" class="lg">–</text>
<text x="406.80" y="238.00" text-anchor="end" class="lg">100</text>
<rect x="371.30" y="240.40" width="6.5" height="4.6" fill="#006e00"/>
<text x="388.20" y="244.60" text-anchor="end" class="lg">100</text>
<text x="392.80" y="244.60" text-anchor="middle" class="lg">–</text>
<text x="406.80" y="244.60" text-anchor="end" class="lg">120</text>
<rect x="371.30" y="247.00" width="6.5" height="4.6" fill="#004800"/>
<text x="392.80" y="251.20" text-anchor="middle" class="lg">&gt;</text>
<text x="406.80" y="251.20" text-anchor="end" class="lg">120</text>
<rect x="368.80" y="254.70" width="41.70" height="15.70" fill="#fff" stroke="#8c8c8c" stroke-width="0.9"/>
<text x="389.65" y="261.60" text-anchor="middle" class="lg">Hold Values</text>
<text x="389.65" y="268.00" text-anchor="middle" class="lg" xml:space="preserve">BC g   0.006</text>
</svg>
</body></html>
